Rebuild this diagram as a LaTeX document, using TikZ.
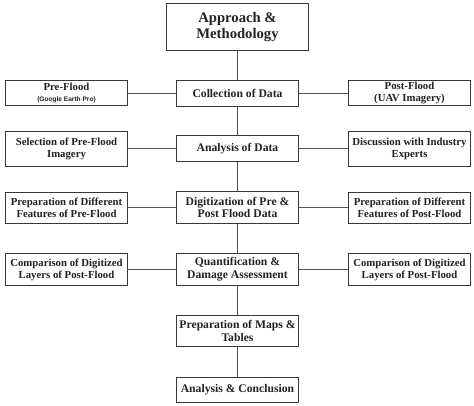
\documentclass[tikz,border=0pt]{standalone}
\usepackage{fontspec}
\setmainfont{Liberation Serif}
\newfontfamily\smallsans{Liberation Sans}
\definecolor{boxline}{HTML}{383838}
\definecolor{conline}{HTML}{555555}
\definecolor{txt}{HTML}{222222}
\begin{document}
\begin{tikzpicture}[x=1bp,y=-1bp,
  box/.style={draw=boxline,line width=1.2bp,inner sep=0pt,align=center,text=txt,
    font=\bfseries\fontsize{10.8}{12.3}\selectfont,minimum width=122bp},
  cbox/.style={box,font=\bfseries\fontsize{11.7}{12.8}\selectfont},
  con/.style={draw=conline,line width=1bp}]
\useasboundingbox (0,0) rectangle (474,405);
\fill[white] (0,0) rectangle (474,405);
% center column
\node[cbox,minimum width=142bp,minimum height=47bp,font=\bfseries\fontsize{14.7}{16}\selectfont] (top) at (237.5,27) {Approach \&\\Methodology};
\node[cbox,minimum height=26bp] (coll) at (237.5,93.5) {Collection of Data};
\node[cbox,minimum height=26bp] (anal) at (237.5,148.5) {Analysis of Data};
\node[cbox,minimum height=32bp] (digi) at (237.5,207.5) {Digitization of Pre \&\\Post Flood Data};
\node[cbox,minimum height=32bp] (quant) at (237.5,269.5) {Quantification \&\\Damage Assessment};
\node[cbox,minimum height=31bp] (maps) at (237.5,331) {Preparation of Maps \&\\Tables};
\node[cbox,minimum height=25bp] (concl) at (237.5,390) {Analysis \& Conclusion};
% left column
\node[box,minimum height=25bp] (l1) at (66.5,93) {Pre-Flood\\[-1.5bp]{\smallsans\bfseries\fontsize{6.6}{7}\selectfont(Google Earth Pro)}};
\node[box,minimum height=35bp] (l2) at (66.5,149) {Selection of Pre-Flood\\Imagery};
\node[box,minimum height=31bp] (l3) at (66.5,208) {Preparation of Different\\Features of Pre-Flood};
\node[box,minimum height=32bp] (l4) at (66.5,269.5) {Comparison of Digitized\\Layers of Post-Flood};
% right column
\node[box,minimum height=25bp] (r1) at (409.5,93) {Post-Flood\\(UAV Imagery)};
\node[box,minimum height=35bp] (r2) at (409.5,149) {Discussion with Industry\\Experts};
\node[box,minimum height=31bp] (r3) at (409.5,208) {Preparation of Different\\Features of Post-Flood};
\node[box,minimum height=32bp] (r4) at (409.5,269.5) {Comparison of Digitized\\Layers of Post-Flood};
% connectors
\draw[con] (top) -- (coll);
\draw[con] (coll) -- (anal);
\draw[con] (anal) -- (digi);
\draw[con] (digi) -- (quant);
\draw[con] (quant) -- (maps);
\draw[con] (maps) -- (concl);
\draw[con] (l1.east |- coll) -- (coll);
\draw[con] (coll) -- (r1.west |- coll);
\draw[con] (l2.east |- anal) -- (anal);
\draw[con] (anal) -- (r2.west |- anal);
\draw[con] (l3.east |- digi) -- (digi);
\draw[con] (digi) -- (r3.west |- digi);
\draw[con] (l4.east |- quant) -- (quant);
\draw[con] (quant) -- (r4.west |- quant);
\end{tikzpicture}
\end{document}
